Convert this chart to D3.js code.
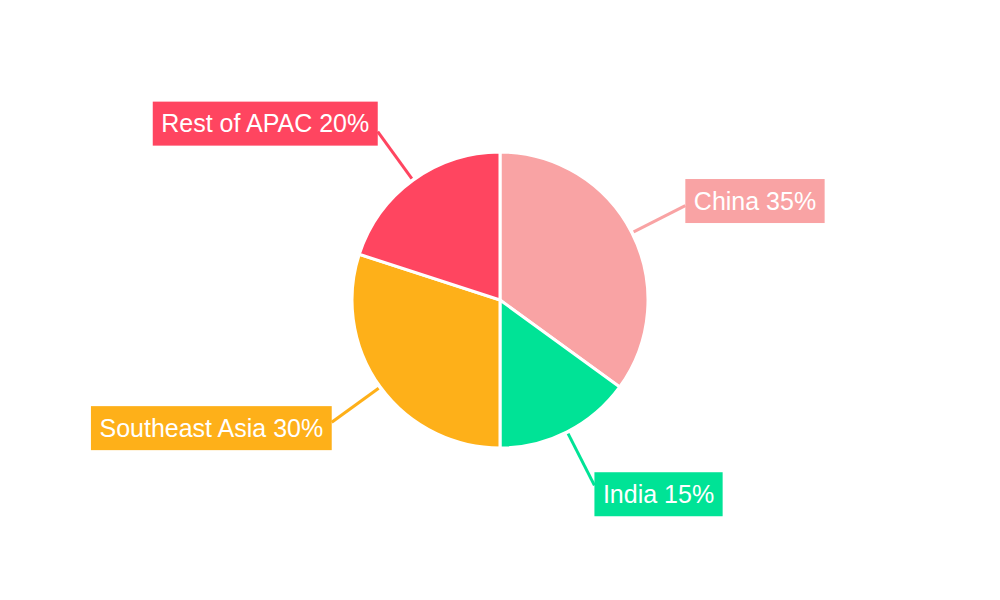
<!DOCTYPE html>
<html>
<head>
<meta charset="UTF-8">
<title>APAC share</title>
<script src="https://cdn.jsdelivr.net/npm/d3@7"></script>
<style>
body { margin: 0; background: #fff; }
.label text {
  font: 25px "Liberation Sans", Arial, sans-serif;
  fill: #fff;
}
</style>
</head>
<body>
<svg width="1000" height="600"></svg>

<script>
var regions = ["China", "India", "Southeast Asia", "Rest of APAC"];
var shares = [35, 15, 30, 20];
var colors = ["#F9A3A4", "#00E396", "#FEB019", "#FF4560"];

var svg = d3.select("svg"),
    cx = 500, cy = 300,
    radius = 148;

var data = regions.map(function(r, i) { return {name: r, value: shares[i], color: colors[i]}; });

var pie = d3.pie()
    .sort(null)
    .value(function(d) { return d.value; });

var arc = d3.arc()
    .innerRadius(0)
    .outerRadius(radius);

var g = svg.append("g")
    .attr("transform", "translate(" + cx + "," + cy + ")");

var arcs = pie(data);

g.selectAll("path.slice")
  .data(arcs)
  .enter().append("path")
    .attr("class", "slice")
    .attr("d", arc)
    .style("fill", function(d) { return d.data.color; })
    .style("stroke", "#fff")
    .style("stroke-width", 3);

// leader lines + boxed labels
arcs.forEach(function(d) {
  var a = (d.startAngle + d.endAngle) / 2,
      dx = Math.sin(a), dy = -Math.cos(a);
  var x0 = dx * 150, y0 = dy * 150,
      x1 = dx * 208, y1 = dy * 208,
      yc = dy * 218;

  g.append("line")
      .attr("x1", x0).attr("y1", y0)
      .attr("x2", x1).attr("y2", y1)
      .style("stroke", d.data.color)
      .style("stroke-width", 3);

  var lab = g.append("g").attr("class", "label");
  var rect = lab.append("rect")
      .style("fill", d.data.color);
  var txt = lab.append("text")
      .attr("dy", "0.35em")
      .text(d.data.name + " " + d.data.value + "%");

  var w = txt.node().getComputedTextLength() + 17,
      h = 44,
      left = dx >= 0 ? x1 : x1 - w;

  rect.attr("x", left).attr("y", yc - h / 2)
      .attr("width", w).attr("height", h);
  txt.attr("x", left + 8.5).attr("y", yc);
});
</script>
</body>
</html>
